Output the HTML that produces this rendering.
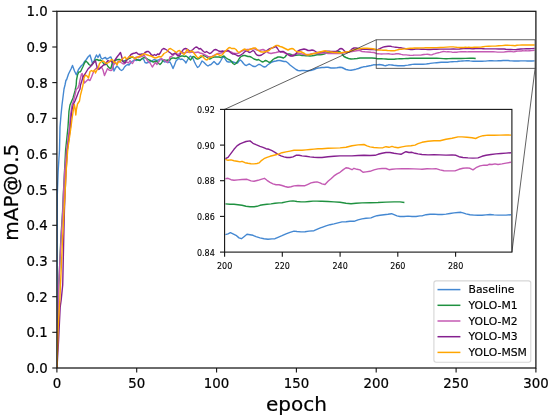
<!DOCTYPE html>
<html><head><meta charset="utf-8"><title>mAP@0.5 vs epoch</title><style>html,body{margin:0;padding:0;background:#fff}</style></head><body>
<svg width="550" height="419" viewBox="0 0 550 419" style="display:block;font-family:'DejaVu Sans','Liberation Sans',sans-serif">
<rect width="550" height="419" fill="#fff"/>
<defs><clipPath id="cm"><rect x="56.9" y="11.3" width="479.0" height="356.7"/></clipPath><clipPath id="ci"><rect x="224.6" y="109.4" width="287.29999999999995" height="142.7"/></clipPath></defs>
<polyline points="57.0,368.0 57.1,300.0 57.3,195.0 58.1,172.0 59.5,150.0 60.0,127.0 61.0,115.0 62.0,105.0 63.0,97.0 64.0,89.0 65.0,85.0 66.0,80.0 66.5,80.0 68.5,74.0 71.0,69.0 72.5,65.5 74.5,71.0 76.3,74.8 78.5,69.5 80.0,67.5 81.5,65.5 82.8,64.5 84.5,61.5 86.0,60.0 88.0,57.0 90.0,55.0 91.5,60.0 92.5,63.5 94.0,61.0 95.5,57.0 96.5,55.0 98.0,57.5 99.7,54.2 101.0,58.0 102.5,59.0 104.0,58.0 105.5,57.5 106.5,59.0 108.0,58.5 109.5,57.5 110.9,57.0 112.0,60.0 113.0,66.0 114.0,71.0 115.5,68.0 117.0,66.0 118.5,67.5 120.0,69.5 121.5,70.5 123.0,69.5 124.5,67.0 126.0,65.5 127.5,64.5 129.0,65.0 130.5,63.0 132.0,61.5 133.5,60.5 135.0,60.0 136.5,60.5 138.0,59.5 139.5,60.0 141.0,59.5 142.5,58.5 144.0,60.0 145.0,62.5 146.5,63.0 148.0,62.5 149.5,62.0 151.0,61.5 152.5,60.5 154.0,59.5 155.5,60.0 157.0,60.5 158.5,60.0 160.0,59.0 161.5,59.5 163.0,61.0 164.5,62.0 165.9,61.5 168.0,62.5 170.0,62.0 171.5,65.0 173.0,68.5 174.5,65.0 176.0,61.0 177.5,59.5 179.0,58.5 180.5,59.5 182.0,59.0 183.5,60.0 185.0,61.5 186.0,63.0 187.5,60.0 189.0,57.5 190.5,56.0 191.5,57.0 193.0,58.5 194.5,62.0 196.0,65.0 197.5,67.5 199.0,66.5 200.5,64.0 202.0,61.0 203.5,62.0 205.0,63.5 206.5,65.0 208.0,66.0 209.5,65.0 211.0,64.5 212.5,63.0 214.0,61.5 215.5,63.0 217.0,64.5 218.5,64.0 220.0,62.0 220.9,60.5 222.5,57.5 224.0,57.0 225.5,59.5 227.0,61.5 228.5,62.0 230.0,62.0 231.5,61.5 233.0,62.0 234.5,62.5 236.0,63.0 237.5,63.0 239.0,61.0 240.5,60.0 242.0,61.5 243.5,63.5 245.0,65.0 246.5,65.5 248.0,64.5 249.5,64.0 251.0,65.0 252.5,66.0 254.0,66.5 255.5,66.5 257.0,65.5 258.5,64.5 260.0,64.5 261.5,65.5 263.0,66.5 264.5,67.0 266.0,66.5 267.5,65.0 269.0,64.0 270.5,63.0 272.0,62.0 273.5,61.5 275.9,61.0 278.0,60.5 280.0,60.5 282.0,61.0 284.0,61.5 286.0,61.5 288.0,63.0 290.0,65.0 292.0,66.5 294.0,68.0 296.0,69.5 298.0,70.5 300.0,70.8 302.0,70.5 304.0,70.5 306.0,70.8 308.0,70.8 310.0,70.5 312.0,70.2 314.0,69.5 316.0,68.5 318.0,68.0 320.0,67.8 322.0,67.5 324.0,67.5 326.0,67.3 328.0,67.3 330.9,68.0 334.0,68.0 337.0,67.8 340.0,67.3 342.0,67.5 344.0,68.5 346.0,69.5 348.5,70.0 351.0,70.2 353.5,69.8 356.0,69.2 358.5,68.5 361.0,67.5 363.5,66.8 366.0,66.5 368.5,66.0 371.0,65.5 373.5,64.8 376.7,64.9 378.1,64.7 379.4,64.5 380.9,64.7 382.5,65.0 384.2,65.5 385.5,65.7 387.0,65.3 388.6,64.8 390.3,64.9 391.9,65.0 393.6,65.3 395.8,65.5 398.0,65.7 400.2,65.8 402.4,65.7 404.1,65.7 405.8,65.4 408.0,65.1 410.2,64.7 412.4,64.4 414.6,64.2 416.3,64.3 418.5,64.3 420.7,64.3 422.9,64.2 425.7,64.1 427.9,63.7 429.5,63.5 430.1,63.4 432.3,63.1 434.5,62.9 436.7,62.7 438.9,62.5 441.2,62.3 443.4,62.3 445.6,62.2 447.8,62.2 450.0,61.9 452.2,61.7 454.4,61.6 457.2,61.5 458.8,61.3 460.5,61.1 462.2,61.0 464.4,60.9 466.6,60.8 468.6,60.7 469.9,60.9 471.6,61.1 473.2,61.3 475.4,61.3 477.6,61.2 479.9,61.3 482.1,61.3 484.3,61.1 485.4,61.1 487.6,60.9 489.8,60.8 492.0,60.8 494.2,60.9 496.4,60.9 498.7,60.8 500.9,60.7 503.1,60.5 505.3,60.5 507.0,60.4 508.1,60.5 509.7,60.7 511.9,60.9 514.1,61.0 516.4,61.0 518.6,61.0 520.8,60.9 523.0,60.9 525.2,60.9 527.4,61.0 529.6,61.0 531.8,61.0 534.6,60.9" fill="none" stroke="#4488d2" stroke-width="1.4" stroke-linejoin="round" stroke-linecap="butt" clip-path="url(#cm)"/>
<polyline points="57.0,368.0 57.8,330.0 58.6,290.0 60.8,240.0 62.6,211.0 63.3,195.0 64.5,172.0 65.6,150.0 68.0,127.0 68.5,119.0 69.0,111.0 70.0,105.0 73.0,98.0 75.0,91.0 76.2,85.0 76.5,80.0 77.5,75.0 78.8,72.0 80.5,71.8 81.8,69.0 83.0,66.5 84.5,63.0 85.8,61.0 87.5,62.5 89.0,64.5 90.5,65.5 92.0,64.5 93.5,62.5 95.5,60.0 97.0,59.5 99.0,60.5 100.5,60.0 102.0,61.0 103.5,63.5 105.0,64.5 106.5,64.0 108.0,66.5 109.5,68.0 110.9,68.5 112.5,62.0 114.0,61.5 116.0,60.0 118.0,59.5 120.0,59.5 121.5,60.5 123.0,61.5 124.5,61.0 126.0,60.0 127.5,59.5 129.0,58.5 130.5,58.0 132.0,57.0 133.5,57.5 135.0,58.5 136.5,59.5 138.0,60.0 140.0,60.5 141.5,59.0 143.0,58.0 144.5,57.5 146.0,58.0 147.5,59.0 149.0,60.0 150.5,60.5 152.0,61.5 153.5,62.0 155.0,61.5 156.5,61.0 158.0,63.0 160.0,64.5 161.5,63.0 163.0,60.5 164.5,60.0 165.9,60.5 168.0,60.0 169.5,60.5 171.0,58.5 172.5,58.0 174.0,58.0 175.5,58.5 177.0,58.0 178.5,57.5 180.0,56.5 181.5,56.0 183.0,56.0 184.5,56.5 186.0,56.0 187.5,57.0 189.0,58.5 190.5,60.0 192.0,58.0 193.0,56.5 194.5,57.0 196.0,58.5 197.5,59.0 199.0,58.5 200.5,57.5 202.0,56.5 203.5,55.5 205.0,56.0 206.5,57.0 208.0,58.0 209.5,59.0 211.0,58.5 212.5,57.5 214.0,57.0 215.5,57.0 217.0,57.0 219.0,57.0 220.9,57.5 222.5,56.5 224.0,56.0 225.5,57.5 227.0,58.5 228.5,59.5 230.0,60.0 231.5,61.5 233.0,63.5 234.5,64.5 236.0,63.5 237.5,61.5 239.0,59.0 240.5,57.0 242.0,56.0 243.5,55.5 245.0,55.5 246.5,56.0 248.0,56.5 249.5,56.5 251.0,57.0 252.5,58.0 254.0,59.0 255.5,59.5 257.0,60.0 258.5,59.5 260.0,60.5 261.5,61.5 263.0,62.0 264.5,61.0 265.5,60.5 267.0,61.0 268.5,62.0 270.0,62.5 271.5,61.0 273.0,59.5 274.5,58.5 275.9,58.0 278.0,57.0 280.0,57.0 282.0,57.5 283.5,58.0 285.0,57.0 286.5,55.0 288.0,54.0 289.5,54.0 291.0,54.5 292.5,55.0 294.0,55.5 296.0,55.2 298.0,55.0 300.0,55.0 302.0,55.5 304.0,55.5 306.0,55.8 308.0,55.8 310.0,56.0 312.0,55.8 314.0,55.5 316.0,55.0 318.0,54.5 320.0,54.8 322.0,54.5 324.0,54.0 325.5,53.5 327.0,52.5 329.0,52.5 330.9,52.5 334.0,52.5 337.0,52.0 339.5,51.5 341.0,52.5 342.5,54.5 344.0,56.5 346.0,57.5 348.5,58.5 351.0,59.0 354.0,58.8 357.0,58.5 360.0,58.0 363.0,58.0 366.0,58.0 369.0,58.0 372.0,58.0 375.0,58.2 376.7,58.7 379.2,58.8 381.4,58.8 383.6,58.9 385.9,59.0 388.1,59.2 390.3,59.3 392.5,59.3 394.1,59.2 395.8,59.0 397.5,58.9 399.7,58.8 401.9,58.7 404.1,58.6 406.3,58.5 408.0,58.5 410.2,58.3 412.4,58.2 414.1,58.1 416.3,58.3 418.5,58.3 420.7,58.3 422.9,58.3 425.1,58.2 427.3,58.2 429.5,58.2 430.1,58.2 433.4,58.3 436.7,58.3 440.0,58.4 443.4,58.6 446.1,58.7 448.9,58.6 452.2,58.5 456.6,58.5 461.1,58.5 465.5,58.4 469.9,58.3 473.2,58.3 475.7,58.5" fill="none" stroke="#1f9140" stroke-width="1.4" stroke-linejoin="round" stroke-linecap="butt" clip-path="url(#cm)"/>
<polyline points="57.0,368.0 57.8,330.0 58.4,300.0 58.7,285.0 61.0,240.0 62.8,211.0 63.4,195.0 64.6,172.0 66.6,150.0 69.5,127.0 70.5,115.0 72.0,105.0 73.5,101.0 75.0,95.0 76.2,89.5 78.0,88.0 79.0,85.0 80.0,80.0 81.5,74.0 82.2,73.5 83.0,78.0 84.5,83.0 86.0,81.5 88.0,79.5 90.0,80.5 91.5,77.0 93.5,72.0 95.0,69.5 96.5,68.0 98.0,69.5 99.5,69.0 101.5,67.0 103.0,70.0 104.5,75.5 106.0,72.0 107.5,68.5 109.0,70.0 110.9,70.5 112.0,70.0 113.5,65.0 115.0,63.0 116.5,64.0 118.0,61.5 119.5,61.0 121.0,62.5 122.5,63.5 124.0,64.0 125.5,62.5 127.0,62.0 128.5,63.0 130.0,60.5 131.0,62.5 132.5,63.5 134.0,61.0 135.5,57.5 137.0,57.0 138.5,57.5 140.0,57.0 141.5,56.5 143.0,56.0 144.5,55.5 145.5,57.5 147.0,60.0 148.5,62.0 150.0,63.0 151.5,65.5 152.5,67.0 154.0,64.5 155.5,62.5 157.0,64.5 158.5,62.0 160.0,60.0 161.5,58.5 163.0,59.5 164.5,60.5 165.9,61.0 167.5,62.5 169.0,60.0 170.0,57.0 171.5,56.5 173.0,55.5 174.5,54.0 176.0,53.0 177.5,54.5 179.0,54.0 180.5,52.5 182.0,52.0 184.0,53.0 186.0,52.5 188.0,52.0 190.0,52.5 192.0,52.0 194.0,52.5 196.0,52.5 198.0,52.0 200.0,53.0 202.0,53.5 204.0,54.5 206.0,55.5 208.0,56.5 210.0,57.0 212.0,56.5 214.0,55.5 216.0,54.5 218.0,53.5 220.9,53.0 223.0,52.5 225.0,51.5 227.0,51.0 229.0,51.5 231.0,52.0 233.0,53.0 235.0,53.5 237.0,53.5 239.0,53.0 241.0,51.5 243.0,50.5 245.0,50.0 247.0,49.5 249.0,49.5 251.0,49.0 253.0,48.5 255.0,49.0 257.0,50.0 259.0,50.5 261.0,50.0 263.0,49.5 265.0,50.5 267.0,52.0 269.0,53.0 271.0,53.5 273.0,53.0 275.9,52.5 278.0,52.0 280.0,51.5 282.0,52.0 284.0,52.5 286.0,53.5 288.0,54.5 290.0,55.5 292.0,55.5 294.0,54.5 296.0,54.0 298.0,53.5 300.0,53.5 302.0,54.0 304.0,54.5 306.0,54.8 308.0,54.5 310.0,54.2 312.0,53.8 314.0,53.5 316.0,53.5 318.0,53.5 320.0,53.5 322.0,53.0 324.0,52.8 326.0,53.0 328.0,53.5 330.9,53.5 334.0,53.5 337.0,53.5 340.0,53.5 343.0,53.0 346.0,52.5 349.0,52.0 352.0,51.5 355.0,51.0 358.0,50.5 360.0,50.5 362.0,51.5 365.0,51.8 368.0,52.0 371.0,52.3 374.0,52.5 376.7,53.7 378.1,53.6 379.8,53.9 381.4,54.0 383.6,53.9 385.9,53.9 388.6,53.8 390.8,54.1 392.5,54.2 394.7,54.0 396.4,53.8 398.2,53.6 399.7,54.0 401.3,54.4 403.0,54.7 404.7,54.9 406.3,54.9 408.0,55.1 409.6,55.3 411.3,55.4 413.0,55.3 414.6,55.1 416.8,55.1 419.0,55.1 420.7,55.1 422.4,54.8 424.0,54.5 425.7,54.4 427.3,54.3 429.0,54.5 430.1,54.7 431.8,54.9 433.4,54.2 435.1,53.7 436.7,53.1 438.4,52.7 440.0,52.4 441.7,51.9 443.4,51.5 445.0,51.6 446.7,51.9 447.8,51.6 449.4,51.8 451.1,51.9 452.8,52.4 454.4,52.3 456.6,52.2 458.8,51.9 461.1,51.7 463.3,51.7 465.5,51.7 467.1,51.9 468.8,51.8 471.0,51.7 474.3,51.7 477.6,51.7 481.0,51.7 484.3,51.8 485.4,51.8 488.2,51.7 490.9,51.7 493.1,51.7 495.3,51.9 497.6,52.1 500.9,52.1 503.6,52.1 505.8,51.8 508.1,51.6 510.3,51.5 511.9,51.6 513.6,51.9 515.3,51.5 517.5,51.1 519.7,51.0 521.3,51.0 522.4,50.8 524.1,50.9 525.8,50.7 527.4,50.9 529.6,50.7 531.8,50.6 534.6,50.4" fill="none" stroke="#c45ab3" stroke-width="1.4" stroke-linejoin="round" stroke-linecap="butt" clip-path="url(#cm)"/>
<polyline points="57.0,368.0 58.6,340.0 60.2,307.0 61.2,300.0 62.7,285.0 63.7,240.0 64.4,211.0 65.0,195.0 66.0,172.0 67.4,150.0 70.5,127.0 71.0,118.0 72.2,109.0 73.5,104.0 75.0,101.0 77.0,96.0 78.5,92.0 80.0,89.0 80.5,85.0 81.5,82.0 83.0,77.0 85.0,74.0 86.5,71.5 88.0,69.0 90.0,67.0 91.5,65.5 93.0,63.5 94.5,61.5 95.5,61.0 96.5,65.0 97.5,68.5 99.0,69.0 100.5,67.5 102.0,66.5 103.5,65.0 105.0,64.5 106.5,62.5 108.0,60.5 109.5,61.5 110.9,61.0 113.0,63.0 115.0,60.0 117.0,57.0 119.0,54.5 120.5,52.5 121.5,56.0 122.5,60.0 123.5,62.0 125.0,63.0 126.0,61.0 127.5,59.0 129.0,57.0 131.0,54.5 133.0,53.5 135.0,53.0 136.5,52.5 138.0,54.0 140.0,54.5 142.0,54.0 143.5,54.5 145.0,52.5 147.0,51.5 148.5,51.5 150.0,53.0 151.5,55.0 153.0,55.5 154.5,54.5 156.0,55.5 157.5,54.0 159.0,54.5 160.5,52.5 162.0,49.5 163.5,48.5 165.0,49.0 165.9,49.5 167.5,50.5 169.0,52.0 170.5,53.0 172.0,54.5 173.5,54.0 175.0,53.0 176.5,54.5 178.0,56.0 179.5,55.5 181.0,53.0 182.5,50.5 184.0,49.0 185.5,48.5 187.0,49.0 188.5,50.0 190.0,51.5 191.5,50.5 193.0,49.5 194.5,48.0 196.0,47.0 197.5,47.5 199.0,49.0 200.5,48.5 202.0,50.0 203.5,51.5 205.0,52.5 206.5,51.5 208.0,52.5 209.5,53.5 211.0,53.0 212.5,51.5 214.0,50.0 215.5,49.5 217.0,50.0 218.5,51.0 220.9,51.5 222.5,51.0 224.0,51.5 225.5,51.0 227.0,50.5 228.5,50.5 229.5,51.5 231.0,53.0 232.5,54.0 234.0,54.0 235.5,54.5 237.0,55.5 238.5,56.0 240.0,55.5 241.5,54.5 243.0,53.5 244.5,52.0 246.0,51.0 247.5,51.0 248.5,52.0 250.0,52.5 251.5,51.5 253.0,50.5 254.5,51.5 255.5,53.5 257.0,55.0 258.5,55.5 260.0,55.5 261.5,55.0 263.0,54.0 264.5,53.0 266.0,51.5 267.5,50.0 269.0,49.0 270.5,48.5 272.0,48.0 273.5,47.5 275.9,46.5 277.5,48.5 279.0,51.0 280.5,52.0 282.0,51.5 283.5,51.5 285.0,52.5 286.5,53.5 288.0,54.5 289.5,55.5 291.0,56.0 292.5,56.0 294.0,55.5 295.5,54.5 296.5,53.0 298.0,51.0 300.0,50.0 302.0,49.5 304.0,49.0 306.0,49.5 308.0,50.5 310.0,50.5 312.0,50.0 314.0,50.5 315.5,51.5 317.0,52.5 319.0,52.5 321.0,52.0 323.0,51.8 325.0,51.5 327.0,51.3 329.0,51.3 330.9,51.5 333.5,51.5 336.0,51.5 338.0,50.5 339.5,49.0 341.0,48.5 342.5,49.0 344.0,50.5 345.5,52.0 347.0,52.5 349.0,52.0 350.5,50.5 352.0,49.0 354.0,48.0 356.0,48.0 358.0,48.5 360.0,48.8 361.0,49.2 364.0,49.2 367.0,49.2 370.0,49.5 373.0,49.5 376.7,49.7 378.1,49.4 379.8,48.6 381.4,47.8 383.1,47.1 384.7,46.7 386.4,46.5 388.1,46.3 390.3,46.1 391.9,46.6 393.6,46.9 395.8,47.2 397.5,47.4 399.1,47.7 400.8,47.8 402.4,48.1 404.1,48.4 405.8,48.8 407.4,49.1 409.1,49.3 410.7,49.5 412.4,49.5 414.1,49.3 415.7,49.0 417.4,49.0 419.0,49.1 421.2,49.2 423.5,49.3 425.7,49.4 427.9,49.5 430.1,49.5 433.4,49.3 436.7,49.2 440.0,49.1 443.4,49.1 446.7,49.1 450.0,49.1 453.3,49.0 456.6,49.1 459.4,49.0 461.1,48.8 463.3,48.6 465.5,48.5 467.7,48.5 469.9,48.6 472.1,48.7 473.8,48.8 475.4,48.5 476.5,48.3 478.2,48.5 479.9,48.4 481.5,48.6 483.2,48.7 485.4,48.9 488.7,48.9 492.0,48.9 495.3,48.9 498.7,49.0 502.0,48.9 504.2,49.0 505.8,49.3 508.1,49.5 510.8,49.5 513.6,49.6 516.4,49.5 518.6,49.2 520.8,49.0 523.5,48.9 526.3,48.7 529.1,48.7 531.8,48.6 534.6,48.5" fill="none" stroke="#85208f" stroke-width="1.4" stroke-linejoin="round" stroke-linecap="butt" clip-path="url(#cm)"/>
<polyline points="57.0,368.0 58.0,330.0 59.8,300.0 60.5,285.0 62.5,240.0 64.0,211.0 65.0,195.0 66.1,172.0 67.7,150.0 71.0,127.0 72.0,119.0 73.5,109.0 74.3,104.5 75.0,108.0 75.8,115.0 76.5,109.0 77.5,104.0 79.5,101.0 80.5,95.0 81.8,90.0 83.0,85.0 84.0,78.0 85.5,75.0 87.0,76.0 88.5,78.0 90.0,71.5 91.5,70.5 93.0,71.5 94.5,70.0 95.5,73.0 97.0,70.0 98.5,67.0 99.5,63.5 101.0,62.0 102.5,61.0 104.0,61.5 105.5,63.0 107.0,63.5 108.5,62.5 110.0,61.5 110.9,60.0 112.5,59.5 114.0,62.5 115.5,62.0 117.0,65.0 118.5,61.5 120.0,62.0 121.5,59.5 123.0,58.5 125.0,57.0 126.5,59.0 128.0,58.0 129.5,56.5 131.0,57.0 132.5,56.5 134.0,58.0 135.5,58.5 137.0,57.5 139.0,56.5 141.0,55.5 143.0,54.5 144.5,53.5 146.0,54.5 147.5,55.0 149.0,55.5 151.0,56.0 153.0,57.0 155.0,58.0 157.0,57.5 159.0,56.5 161.0,57.0 162.5,55.5 164.0,53.5 165.9,52.5 167.5,51.5 169.0,49.0 170.5,48.5 172.0,49.5 173.5,50.5 175.0,51.5 176.5,52.5 178.0,51.0 179.5,50.5 181.0,52.0 182.5,53.5 184.0,54.5 185.5,52.5 186.5,50.5 187.5,49.5 189.0,52.5 190.5,51.5 192.0,51.0 193.5,52.5 195.0,54.5 196.5,56.5 198.0,58.0 199.5,57.0 201.0,55.5 202.5,56.5 204.0,58.0 205.5,59.5 207.0,60.0 208.5,58.5 210.0,57.5 211.5,57.0 213.0,56.5 214.5,55.5 216.0,54.5 217.5,54.0 219.0,55.0 220.9,55.5 222.5,54.5 224.0,52.5 225.5,51.0 227.0,49.5 228.5,48.0 230.0,47.5 231.5,48.5 233.0,48.5 234.5,48.5 236.0,49.5 237.5,51.5 239.0,52.5 240.5,51.5 242.0,50.5 243.5,49.5 245.0,49.0 246.5,50.0 248.0,50.5 249.5,49.5 251.0,49.0 252.5,48.5 254.0,48.0 255.5,48.0 257.0,49.5 258.5,50.5 260.0,51.5 261.5,52.0 263.0,52.0 264.5,52.0 266.0,51.5 267.5,51.0 269.0,50.5 270.5,49.0 272.0,48.0 273.5,47.0 275.0,46.0 275.9,45.5 278.0,45.5 280.0,46.5 282.0,47.0 284.0,48.0 286.0,49.0 288.0,50.0 290.0,49.0 292.0,48.5 293.5,49.0 295.0,50.5 296.5,51.5 298.5,52.0 300.5,51.5 302.5,52.5 304.5,53.5 306.0,54.5 308.0,55.0 310.0,54.5 312.0,54.0 314.0,53.5 316.0,53.0 318.0,52.5 320.0,52.0 322.0,51.5 324.0,51.0 325.5,50.8 327.0,51.5 329.0,51.8 330.9,52.0 334.0,52.5 337.0,52.5 340.0,53.0 343.0,52.5 346.0,52.0 349.0,51.5 352.0,50.5 355.0,49.5 358.0,48.8 361.0,48.5 364.0,48.2 367.0,48.2 370.0,48.5 373.0,48.8 376.7,49.8 378.1,50.0 379.8,49.9 381.4,50.1 383.1,50.2 384.7,50.3 385.9,50.2 387.5,50.5 389.2,50.6 390.8,50.7 392.5,50.7 394.1,50.7 395.3,50.5 396.4,50.1 398.0,49.7 399.7,49.4 401.3,49.2 403.0,49.1 404.7,48.9 406.3,48.7 408.0,48.5 410.2,48.3 412.4,48.2 414.6,48.0 416.8,48.0 419.0,48.0 421.2,47.9 423.5,47.9 425.7,47.8 427.9,47.7 430.1,47.7 433.4,47.6 436.7,47.6 440.0,47.5 443.4,47.4 446.7,47.1 450.0,46.9 453.3,46.9 455.0,47.1 456.6,47.3 458.8,47.5 461.6,47.5 463.8,47.5 465.5,47.3 467.1,47.4 468.8,47.2 470.5,47.4 472.1,47.5 474.3,47.3 476.5,47.2 479.3,47.1 481.5,47.0 483.2,46.7 485.4,46.4 488.7,46.2 492.0,46.1 495.3,46.1 498.7,45.8 502.0,45.6 505.3,45.3 507.5,45.3 510.3,45.4 513.0,45.5 515.0,45.7 516.9,45.3 519.1,45.1 521.9,45.0 525.2,45.0 528.5,45.0 531.8,44.9 534.6,45.0" fill="none" stroke="#ffa500" stroke-width="1.4" stroke-linejoin="round" stroke-linecap="butt" clip-path="url(#cm)"/>
<rect x="56.9" y="11.3" width="479.0" height="356.7" fill="none" stroke="#141414" stroke-width="1.25"/>
<line x1="56.9" y1="368.0" x2="56.9" y2="372.6" stroke="#141414" stroke-width="1.1"/>
<text x="56.9" y="388.0" font-size="13.33" text-anchor="middle" fill="#000" stroke="#000" stroke-width="0.22">0</text>
<line x1="136.7" y1="368.0" x2="136.7" y2="372.6" stroke="#141414" stroke-width="1.1"/>
<text x="136.7" y="388.0" font-size="13.33" text-anchor="middle" fill="#000" stroke="#000" stroke-width="0.22">50</text>
<line x1="216.6" y1="368.0" x2="216.6" y2="372.6" stroke="#141414" stroke-width="1.1"/>
<text x="216.6" y="388.0" font-size="13.33" text-anchor="middle" fill="#000" stroke="#000" stroke-width="0.22">100</text>
<line x1="296.4" y1="368.0" x2="296.4" y2="372.6" stroke="#141414" stroke-width="1.1"/>
<text x="296.4" y="388.0" font-size="13.33" text-anchor="middle" fill="#000" stroke="#000" stroke-width="0.22">150</text>
<line x1="376.2" y1="368.0" x2="376.2" y2="372.6" stroke="#141414" stroke-width="1.1"/>
<text x="376.2" y="388.0" font-size="13.33" text-anchor="middle" fill="#000" stroke="#000" stroke-width="0.22">200</text>
<line x1="456.1" y1="368.0" x2="456.1" y2="372.6" stroke="#141414" stroke-width="1.1"/>
<text x="456.1" y="388.0" font-size="13.33" text-anchor="middle" fill="#000" stroke="#000" stroke-width="0.22">250</text>
<line x1="535.9" y1="368.0" x2="535.9" y2="372.6" stroke="#141414" stroke-width="1.1"/>
<text x="535.9" y="388.0" font-size="13.33" text-anchor="middle" fill="#000" stroke="#000" stroke-width="0.22">300</text>
<line x1="52.3" y1="368.0" x2="56.9" y2="368.0" stroke="#141414" stroke-width="1.1"/>
<text x="47.7" y="373.0" font-size="13.33" text-anchor="end" fill="#000" stroke="#000" stroke-width="0.22">0.0</text>
<line x1="52.3" y1="332.3" x2="56.9" y2="332.3" stroke="#141414" stroke-width="1.1"/>
<text x="47.7" y="337.3" font-size="13.33" text-anchor="end" fill="#000" stroke="#000" stroke-width="0.22">0.1</text>
<line x1="52.3" y1="296.7" x2="56.9" y2="296.7" stroke="#141414" stroke-width="1.1"/>
<text x="47.7" y="301.7" font-size="13.33" text-anchor="end" fill="#000" stroke="#000" stroke-width="0.22">0.2</text>
<line x1="52.3" y1="261.0" x2="56.9" y2="261.0" stroke="#141414" stroke-width="1.1"/>
<text x="47.7" y="266.0" font-size="13.33" text-anchor="end" fill="#000" stroke="#000" stroke-width="0.22">0.3</text>
<line x1="52.3" y1="225.3" x2="56.9" y2="225.3" stroke="#141414" stroke-width="1.1"/>
<text x="47.7" y="230.3" font-size="13.33" text-anchor="end" fill="#000" stroke="#000" stroke-width="0.22">0.4</text>
<line x1="52.3" y1="189.7" x2="56.9" y2="189.7" stroke="#141414" stroke-width="1.1"/>
<text x="47.7" y="194.7" font-size="13.33" text-anchor="end" fill="#000" stroke="#000" stroke-width="0.22">0.5</text>
<line x1="52.3" y1="154.0" x2="56.9" y2="154.0" stroke="#141414" stroke-width="1.1"/>
<text x="47.7" y="159.0" font-size="13.33" text-anchor="end" fill="#000" stroke="#000" stroke-width="0.22">0.6</text>
<line x1="52.3" y1="118.3" x2="56.9" y2="118.3" stroke="#141414" stroke-width="1.1"/>
<text x="47.7" y="123.3" font-size="13.33" text-anchor="end" fill="#000" stroke="#000" stroke-width="0.22">0.7</text>
<line x1="52.3" y1="82.6" x2="56.9" y2="82.6" stroke="#141414" stroke-width="1.1"/>
<text x="47.7" y="87.6" font-size="13.33" text-anchor="end" fill="#000" stroke="#000" stroke-width="0.22">0.8</text>
<line x1="52.3" y1="47.0" x2="56.9" y2="47.0" stroke="#141414" stroke-width="1.1"/>
<text x="47.7" y="52.0" font-size="13.33" text-anchor="end" fill="#000" stroke="#000" stroke-width="0.22">0.9</text>
<line x1="52.3" y1="11.3" x2="56.9" y2="11.3" stroke="#141414" stroke-width="1.1"/>
<text x="47.7" y="16.3" font-size="13.33" text-anchor="end" fill="#000" stroke="#000" stroke-width="0.22">1.0</text>
<text x="296.4" y="410.5" font-size="20" text-anchor="middle" fill="#000" stroke="#000" stroke-width="0.22">epoch</text>
<text transform="translate(18.2,192.2) rotate(-90)" font-size="20" text-anchor="middle" fill="#000" stroke="#000" stroke-width="0.22">mAP@0.5</text>
<rect x="376.2" y="39.8" width="158.9" height="28.5" fill="none" stroke="#383838" stroke-width="0.8"/>
<line x1="376.2" y1="39.8" x2="224.6" y2="109.4" stroke="#383838" stroke-width="0.8"/>
<line x1="535.1" y1="68.4" x2="511.9" y2="252.1" stroke="#383838" stroke-width="0.8"/>
<rect x="224.6" y="109.4" width="287.3" height="142.7" fill="#fff" stroke="none"/>
<polyline points="225.4,234.7 228.0,233.9 230.4,232.7 233.0,233.9 236.0,235.3 239.0,237.9 241.4,238.7 244.0,236.7 247.0,234.3 250.0,234.7 253.0,235.3 256.0,236.7 260.0,237.9 264.0,238.7 268.0,239.3 272.0,238.9 275.0,238.7 278.0,237.3 282.0,235.7 286.0,233.9 290.0,232.3 294.0,231.1 297.0,231.5 301.0,231.9 305.0,231.7 309.0,231.1 314.0,230.7 318.0,228.9 321.0,227.7 322.0,227.3 326.0,225.9 330.0,224.7 334.0,223.9 338.0,222.9 342.0,221.9 346.0,221.7 350.0,221.3 354.0,221.3 358.0,219.9 362.0,218.9 366.0,218.3 371.0,217.9 374.0,216.7 377.0,215.7 380.0,215.3 384.0,214.7 388.0,214.3 391.6,213.7 394.0,214.7 397.0,215.9 400.0,216.5 404.0,216.5 408.0,216.1 412.0,216.5 416.0,216.5 420.0,215.9 422.0,215.9 426.0,214.7 430.0,214.3 434.0,214.1 438.0,214.5 442.0,214.5 446.0,214.1 450.0,213.5 454.0,212.9 458.0,212.5 461.0,212.3 463.0,212.9 466.0,213.9 470.0,214.7 474.0,215.1 478.0,215.3 482.0,215.3 486.0,214.9 490.0,214.5 494.0,214.9 498.0,215.1 502.0,215.1 506.0,215.1 511.0,214.7" fill="none" stroke="#4488d2" stroke-width="1.4" stroke-linejoin="round" stroke-linecap="butt" clip-path="url(#ci)"/>
<polyline points="225.4,203.9 230.0,204.3 234.0,204.3 238.0,204.7 242.0,205.3 246.0,206.3 250.0,206.7 254.0,206.7 257.0,206.3 260.0,205.3 263.0,204.7 267.0,204.3 271.0,203.9 275.0,203.3 279.0,202.9 282.0,202.7 286.0,201.9 290.0,201.1 293.0,200.9 297.0,201.5 301.0,201.9 305.0,201.9 309.0,201.5 313.0,201.1 317.0,201.1 321.0,201.3 322.0,201.3 328.0,201.5 334.0,201.9 340.0,202.3 346.0,203.3 351.0,203.7 356.0,203.3 362.0,202.9 370.0,202.7 378.0,202.5 386.0,202.1 394.0,201.9 400.0,201.9 404.4,202.5" fill="none" stroke="#1f9140" stroke-width="1.4" stroke-linejoin="round" stroke-linecap="butt" clip-path="url(#ci)"/>
<polyline points="225.4,178.7 228.0,178.3 231.0,179.7 234.0,180.3 238.0,179.9 242.0,179.5 247.0,179.3 251.0,180.9 254.0,181.3 258.0,180.3 261.0,179.3 264.4,178.3 267.0,180.3 270.0,182.3 273.0,183.9 276.0,184.7 279.0,184.7 282.0,185.5 285.0,186.5 288.0,187.3 291.0,186.7 294.0,185.9 298.0,185.5 302.0,185.7 305.0,185.7 308.0,184.3 311.0,182.9 314.0,182.3 317.0,181.9 320.0,182.9 322.0,183.9 325.0,184.5 328.0,181.3 331.0,178.7 334.0,175.9 337.0,173.9 340.0,172.3 343.0,169.9 346.0,167.7 349.0,168.3 352.0,169.7 354.0,168.3 357.0,169.3 360.0,169.9 363.0,172.3 366.0,171.9 370.0,171.3 374.0,169.9 378.0,168.9 382.0,168.5 386.0,168.5 389.0,169.7 392.0,169.3 396.0,168.9 402.0,168.7 408.0,168.7 414.0,168.9 420.0,169.1 422.0,169.3 427.0,168.7 432.0,168.9 436.0,168.7 440.0,169.9 444.0,170.7 450.0,170.9 455.0,170.9 459.0,169.3 463.0,168.3 467.0,167.9 470.0,168.3 473.0,169.9 476.0,167.7 480.0,165.9 484.0,165.1 487.0,165.3 489.0,164.3 492.0,164.5 495.0,163.9 498.0,164.5 502.0,163.9 506.0,163.1 511.0,162.3" fill="none" stroke="#c45ab3" stroke-width="1.4" stroke-linejoin="round" stroke-linecap="butt" clip-path="url(#ci)"/>
<polyline points="225.4,158.7 228.0,157.3 231.0,153.3 234.0,149.3 237.0,145.9 240.0,143.9 243.0,142.7 246.0,141.5 250.0,140.9 253.0,143.3 256.0,144.7 260.0,146.3 263.0,147.3 266.0,148.7 269.0,149.3 272.0,150.7 275.0,152.3 278.0,154.3 281.0,155.9 284.0,156.9 287.0,157.5 290.0,157.5 293.0,156.9 296.0,155.3 299.0,155.3 302.0,155.9 306.0,156.3 310.0,156.9 314.0,157.3 318.0,157.5 322.0,157.5 328.0,156.7 334.0,156.3 340.0,155.9 346.0,155.9 352.0,155.9 358.0,155.5 364.0,155.3 370.0,155.5 375.0,155.3 378.0,154.3 382.0,153.3 386.0,152.5 390.0,152.5 394.0,153.3 398.0,153.9 401.0,154.3 404.0,152.7 406.0,151.7 409.0,152.5 412.0,152.3 415.0,153.3 418.0,153.9 422.0,154.5 428.0,154.9 434.0,154.7 440.0,154.9 446.0,155.1 452.0,154.9 456.0,155.3 459.0,156.7 463.0,157.5 468.0,157.9 473.0,158.1 478.0,157.9 482.0,156.3 486.0,155.3 491.0,154.5 496.0,153.9 501.0,153.5 506.0,153.1 511.0,152.7" fill="none" stroke="#85208f" stroke-width="1.4" stroke-linejoin="round" stroke-linecap="butt" clip-path="url(#ci)"/>
<polyline points="225.4,159.3 228.0,160.3 231.0,159.9 234.0,160.7 237.0,161.3 240.0,161.9 242.0,161.3 245.0,162.7 248.0,163.3 251.0,163.7 254.0,163.9 257.0,163.5 259.0,162.9 261.0,160.9 264.0,158.7 267.0,157.3 270.0,156.3 273.0,155.5 276.0,154.7 279.0,153.9 282.0,152.7 286.0,151.9 290.0,151.1 294.0,150.3 298.0,150.3 302.0,150.3 306.0,149.9 310.0,149.5 314.0,149.1 318.0,148.7 322.0,148.7 328.0,148.3 334.0,148.1 340.0,147.9 346.0,147.3 352.0,145.7 358.0,144.9 364.0,144.5 367.0,145.9 370.0,146.9 374.0,147.5 379.0,147.9 383.0,147.7 386.0,146.7 389.0,147.3 392.0,146.3 395.0,147.3 398.0,147.7 402.0,146.9 406.0,146.1 411.0,145.7 415.0,145.1 418.0,143.7 422.0,142.3 428.0,141.3 434.0,140.7 440.0,140.7 446.0,139.3 452.0,138.3 458.0,136.9 462.0,136.9 467.0,137.3 472.0,137.7 475.6,138.5 479.0,136.9 483.0,135.7 488.0,135.1 494.0,135.3 500.0,135.1 506.0,134.9 511.0,135.1" fill="none" stroke="#ffa500" stroke-width="1.4" stroke-linejoin="round" stroke-linecap="butt" clip-path="url(#ci)"/>
<rect x="224.6" y="109.4" width="287.3" height="142.7" fill="none" stroke="#141414" stroke-width="1.1"/>
<line x1="224.6" y1="252.1" x2="224.6" y2="256.7" stroke="#141414" stroke-width="1.1"/>
<text x="224.6" y="268.5" font-size="8" text-anchor="middle" fill="#000" stroke="#000" stroke-width="0.1">200</text>
<line x1="282.3" y1="252.1" x2="282.3" y2="256.7" stroke="#141414" stroke-width="1.1"/>
<text x="282.3" y="268.5" font-size="8" text-anchor="middle" fill="#000" stroke="#000" stroke-width="0.1">220</text>
<line x1="340.1" y1="252.1" x2="340.1" y2="256.7" stroke="#141414" stroke-width="1.1"/>
<text x="340.1" y="268.5" font-size="8" text-anchor="middle" fill="#000" stroke="#000" stroke-width="0.1">240</text>
<line x1="397.8" y1="252.1" x2="397.8" y2="256.7" stroke="#141414" stroke-width="1.1"/>
<text x="397.8" y="268.5" font-size="8" text-anchor="middle" fill="#000" stroke="#000" stroke-width="0.1">260</text>
<line x1="455.6" y1="252.1" x2="455.6" y2="256.7" stroke="#141414" stroke-width="1.1"/>
<text x="455.6" y="268.5" font-size="8" text-anchor="middle" fill="#000" stroke="#000" stroke-width="0.1">280</text>
<line x1="220.0" y1="252.1" x2="224.6" y2="252.1" stroke="#141414" stroke-width="1.1"/>
<text x="214.8" y="255.7" font-size="8" text-anchor="end" fill="#000" stroke="#000" stroke-width="0.1">0.84</text>
<line x1="220.0" y1="216.4" x2="224.6" y2="216.4" stroke="#141414" stroke-width="1.1"/>
<text x="214.8" y="220.0" font-size="8" text-anchor="end" fill="#000" stroke="#000" stroke-width="0.1">0.86</text>
<line x1="220.0" y1="180.7" x2="224.6" y2="180.7" stroke="#141414" stroke-width="1.1"/>
<text x="214.8" y="184.3" font-size="8" text-anchor="end" fill="#000" stroke="#000" stroke-width="0.1">0.88</text>
<line x1="220.0" y1="145.1" x2="224.6" y2="145.1" stroke="#141414" stroke-width="1.1"/>
<text x="214.8" y="148.7" font-size="8" text-anchor="end" fill="#000" stroke="#000" stroke-width="0.1">0.90</text>
<line x1="220.0" y1="109.4" x2="224.6" y2="109.4" stroke="#141414" stroke-width="1.1"/>
<text x="214.8" y="113.0" font-size="8" text-anchor="end" fill="#000" stroke="#000" stroke-width="0.1">0.92</text>
<rect x="433.9" y="280.9" width="96.9" height="81.3" rx="2.2" fill="#fff" fill-opacity="0.8" stroke="#cccccc" stroke-opacity="0.8" stroke-width="1.1"/>
<line x1="437.5" y1="289.6" x2="460.4" y2="289.6" stroke="#4488d2" stroke-width="1.5"/>
<text x="468.6" y="293.1" font-size="10.8" fill="#000" stroke="#000" stroke-width="0.16">Baseline</text>
<line x1="437.5" y1="305.3" x2="460.4" y2="305.3" stroke="#1f9140" stroke-width="1.5"/>
<text x="468.6" y="308.8" font-size="10.8" fill="#000" stroke="#000" stroke-width="0.16">YOLO-M1</text>
<line x1="437.5" y1="321.0" x2="460.4" y2="321.0" stroke="#c45ab3" stroke-width="1.5"/>
<text x="468.6" y="324.5" font-size="10.8" fill="#000" stroke="#000" stroke-width="0.16">YOLO-M2</text>
<line x1="437.5" y1="336.7" x2="460.4" y2="336.7" stroke="#85208f" stroke-width="1.5"/>
<text x="468.6" y="340.2" font-size="10.8" fill="#000" stroke="#000" stroke-width="0.16">YOLO-M3</text>
<line x1="437.5" y1="352.4" x2="460.4" y2="352.4" stroke="#ffa500" stroke-width="1.5"/>
<text x="468.6" y="355.9" font-size="10.8" fill="#000" stroke="#000" stroke-width="0.16">YOLO-MSM</text>
</svg>
</body></html>
